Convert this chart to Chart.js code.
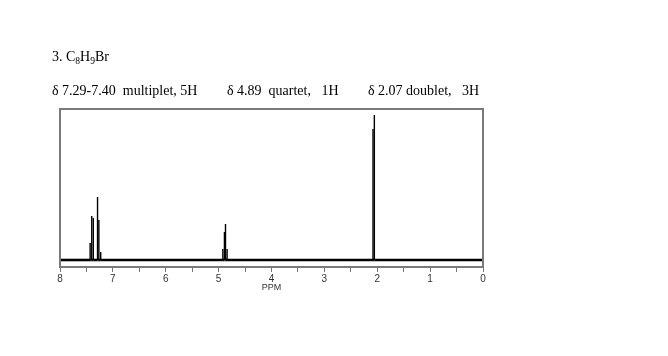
<!DOCTYPE html>
<html>
<head>
<meta charset="utf-8">
<script src="https://cdn.jsdelivr.net/npm/chart.js@4"></script>
<style>
  body { margin: 0; background: #fff; }
  #wrap { position: relative; width: 668px; height: 356px; }
  canvas { position: absolute; left: 0; top: 0; }
  .txt { position: absolute; font-family: "Liberation Serif", "Times New Roman", serif; font-size: 14px; line-height: 14px; color: #000; white-space: pre; }
  .sub { font-size: 9.5px; position: relative; top: 3px; }
</style>
</head>
<body>
<div id="wrap">
  <canvas id="myChart" width="668" height="356"></canvas>
  <div class="txt" style="left:52px; top:50px;">3. C<span class="sub">8</span>H<span class="sub">9</span>Br</div>
  <div class="txt" style="left:52px; top:84px;">δ 7.29-7.40  multiplet, 5H</div>
  <div class="txt" style="left:227px; top:84px;">δ 4.89  quartet,   1H</div>
  <div class="txt" style="left:368px; top:84px;">δ 2.07 doublet,   3H</div>
</div>
<script>
// 1H NMR spectrum of C8H9Br, peaks

const aromaticPpm = [7.43, 7.40, 7.37, 7.29, 7.265, 7.23];      // multiplet 7.29-7.40
const aromaticHeight = [17, 44, 42, 63, 40, 8];

const quartetPpm = [4.92, 4.89, 4.87, 4.84];                     // quartet at 4.89
const quartetHeight = [11, 28, 36, 11];

const doubletPpm = [2.08, 2.055];                                // doublet at 2.07
const doubletHeight = [131, 145];

const ppmTicks = [8, 7, 6, 5, 4, 3, 2, 1, 0];                    // labelled ticks

// Build the spectrum trace: baseline with a stick for every peak
function buildSpectrum() {
    const peaks = [];
    aromaticPpm.forEach((p, i) => peaks.push([p, aromaticHeight[i]]));
    quartetPpm.forEach((p, i) => peaks.push([p, quartetHeight[i]]));
    doubletPpm.forEach((p, i) => peaks.push([p, doubletHeight[i]]));
    peaks.sort((a, b) => b[0] - a[0]);

    const points = [{ x: 8, y: 0 }];
    peaks.forEach(pk => {
        points.push({ x: pk[0], y: 0 });
        points.push({ x: pk[0], y: pk[1] });
        points.push({ x: pk[0], y: 0 });
    });
    points.push({ x: 0, y: 0 });
    return points;
}

// grey frame round the plot area
const frame = {
    id: 'frame',
    afterDraw(chart) {
        const a = chart.chartArea;
        const ctx = chart.ctx;
        ctx.save();
        ctx.strokeStyle = '#7a7a7a';
        ctx.lineWidth = 2;
        ctx.strokeRect(a.left, a.top, a.right - a.left, a.bottom - a.top);
        ctx.restore();
    }
};

const ctx = document.getElementById('myChart');
new Chart(ctx, {
    type: 'line',
    data: {
        datasets: [{
            data: buildSpectrum(),
            borderColor: '#000',
            borderWidth: 1.4,
            pointRadius: 0,
            tension: 0,
            segment: {
                borderWidth: s => (s.p0.parsed.y === 0 && s.p1.parsed.y === 0) ? 2.6 : 1.4
            }
        }]
    },
    options: {
        responsive: false,
        animation: false,
        events: [],
        layout: {
            padding: { left: 60, right: 185, top: 109, bottom: 63 }
        },
        scales: {
            x: {
                type: 'linear',
                reverse: true,
                min: 0,
                max: 8,
                afterFit: scale => { scale.height = 26; },
                grid: {
                    drawOnChartArea: false,
                    drawTicks: true,
                    tickLength: 5,
                    color: '#777'
                },
                border: { display: false },
                ticks: {
                    stepSize: 0.5,
                    autoSkip: false,
                    maxRotation: 0,
                    padding: 1,
                    color: '#333',
                    font: { family: 'Liberation Sans', size: 10 },
                    callback: v => ppmTicks.includes(v) ? String(v) : ''
                },
                title: {
                    display: true,
                    text: 'PPM',
                    color: '#333',
                    padding: 0,
                    font: { family: 'Liberation Sans', size: 9 }
                }
            },
            y: {
                display: false,
                min: -7,
                max: 151
            }
        },
        plugins: {
            legend: { display: false },
            tooltip: { enabled: false }
        }
    },
    plugins: [frame]
});
</script>
</body>
</html>
